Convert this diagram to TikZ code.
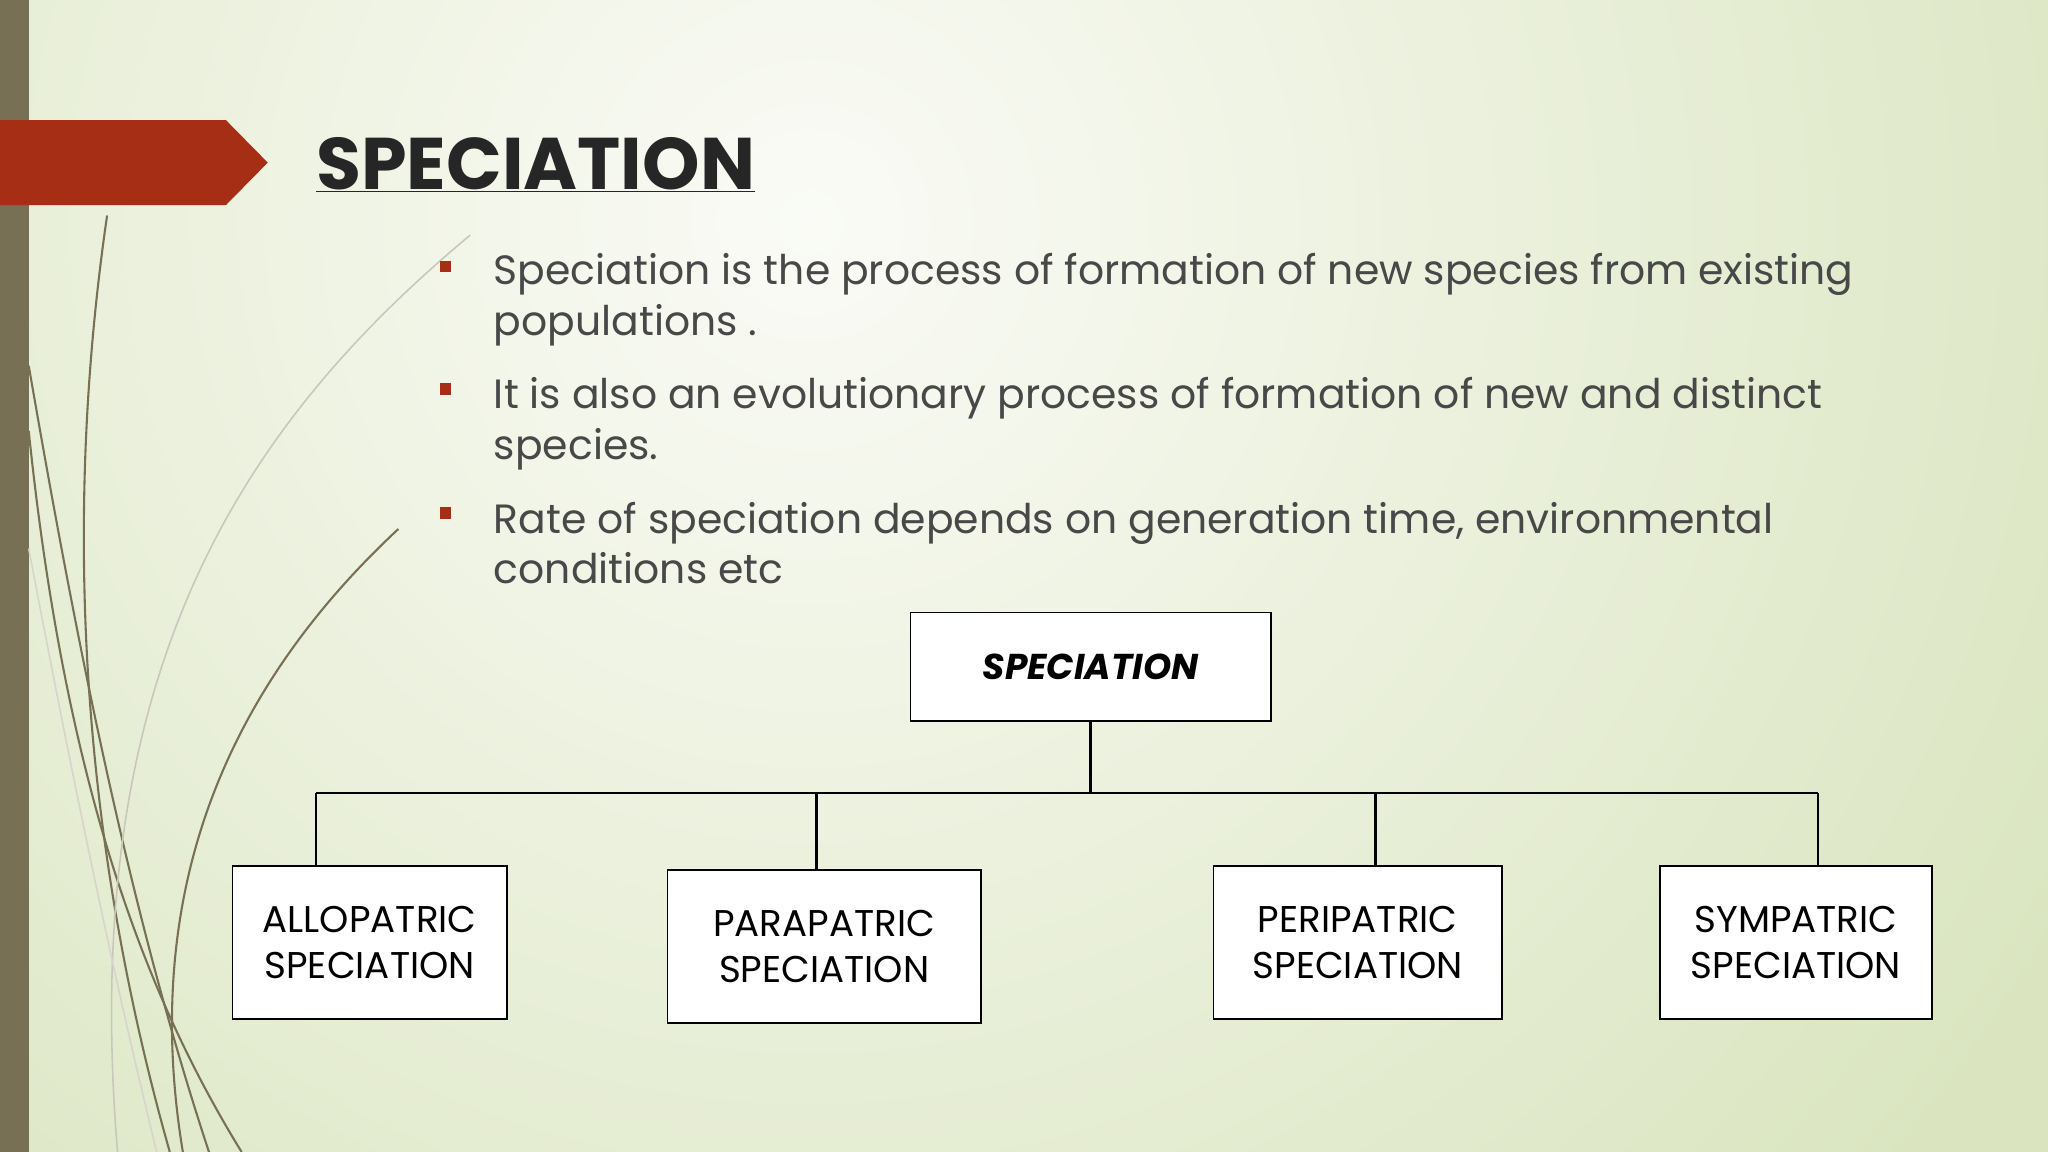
\documentclass[tikz,border=0pt]{standalone}
\usepackage{fontspec}
\setmainfont{Poppins}
\definecolor{bgg}{RGB}{218,229,192}
\definecolor{bgw}{RGB}{250,251,246}
\definecolor{olive}{RGB}{120,112,84}
\definecolor{rust}{RGB}{166,46,20}
\definecolor{txt}{RGB}{72,72,72}
\tikzset{box/.style={draw=black,line width=1.3pt,fill=white,align=center,font=\fontsize{28.5}{35}\selectfont,text=black},
wire/.style={line width=1.8pt},
curve/.style={olive,line width=1.6pt},
bul/.style={fill=rust,minimum size=9pt,inner sep=0pt},
btext/.style={anchor=north west,align=left,text=txt,font=\fontsize{31.3}{39}\selectfont,inner sep=0pt}}
\begin{document}
\begin{tikzpicture}[x=1pt,y=-1pt]
\useasboundingbox (0,0) rectangle (1568,882);
\begin{scope}
\clip (0,0) rectangle (1568,882);
\fill[bgg] (0,0) rectangle (1568,882);
\shade[inner color=bgw,outer color=bgg] (620,170) circle (1100);
\end{scope}
\fill[olive] (0,0) rectangle (22,882);
% curves
\draw[curve] (82,165) .. controls (55,350) and (50,600) .. (130,882);
\draw[curve] (22,280) .. controls (60,500) and (100,700) .. (160,882);
\draw[curve] (22,330) .. controls (50,600) and (110,760) .. (185,882);
\draw[curve] (305,405) .. controls (160,540) and (110,700) .. (140,882);
\draw[olive!40,line width=1.2pt] (360,180) .. controls (180,330) and (60,520) .. (90,882);
\draw[olive!30,line width=1.2pt] (22,420) .. controls (60,620) and (90,760) .. (120,882);
% arrow
\fill[rust] (0,92) -- (173,92) -- (205,124.5) -- (173,157) -- (0,157) -- cycle;
\node[anchor=base west,inner sep=0pt,font=\fontsize{56}{56}\selectfont\bfseries,text=black!85] (title) at (242,145) {\underline{SPECIATION}};
% bullets
\node[bul] (b1) at (341,204) {};
\node[bul] (b2) at (341,298) {};
\node[bul] (b3) at (341,393) {};
\node[btext] (t1) at (378,194) {Speciation is the process of formation of new species from existing\\populations .};
\node[btext] (t2) at (378,289) {It is also an evolutionary process of formation of new and distinct\\species.};
\node[btext] (t3) at (378,384) {Rate of speciation depends on generation time, environmental\\conditions etc};
% tree
\node[box,minimum width=276pt,minimum height=83pt,font=\fontsize{27.5}{31}\selectfont\bfseries\itshape] (top) at (835,510.5) {SPECIATION};
\node[box,minimum width=210pt,minimum height=117pt] (a) at (283,721.5) {ALLOPATRIC\\SPECIATION};
\node[box,minimum width=240pt,minimum height=117pt] (p) at (631,724.5) {PARAPATRIC\\SPECIATION};
\node[box,minimum width=221pt,minimum height=117pt] (pe) at (1039.5,721.5) {PERIPATRIC\\SPECIATION};
\node[box,minimum width=208pt,minimum height=117pt] (s) at (1375,721.5) {SYMPATRIC\\SPECIATION};
\coordinate (hub) at (835,607);
\coordinate (la) at (242,607);
\coordinate (lp) at (625,607);
\coordinate (lpe) at (1053,607);
\coordinate (ls) at (1392,607);
\draw[wire] (top.south) -- (hub);
\draw[wire] (la) -- (ls);
\draw[wire] (la) -- (la |- a.north);
\draw[wire] (lp) -- (lp |- p.north);
\draw[wire] (lpe) -- (lpe |- pe.north);
\draw[wire] (ls) -- (ls |- s.north);
\end{tikzpicture}
\end{document}
